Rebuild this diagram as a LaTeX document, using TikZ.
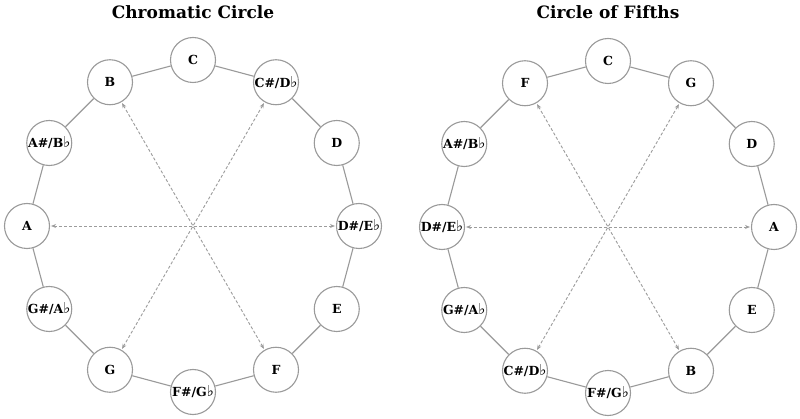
\documentclass[tikz,border=0pt]{standalone}
\usepackage{fontspec}
\setmainfont{DejaVu Serif}
\newfontfamily\flatfont{DejaVu Sans}
\usetikzlibrary{arrows.meta}
\newcommand{\fl}{{\flatfont\mdseries\fontsize{15}{15}\selectfont ♭}}
\definecolor{linegray}{HTML}{9A9A9A}
\definecolor{dashgray}{HTML}{9C9C9C}
\begin{document}
\begin{tikzpicture}[x=1pt,y=-1pt,
  note/.style={circle,draw=linegray,line width=1.1pt,fill=white,minimum size=45pt,inner sep=0pt,
    font=\bfseries\fontsize{12.5}{13}\selectfont},
  ring/.style={draw=linegray,line width=1.1pt},
  link/.style={draw=dashgray,line width=0.9pt,dash pattern=on 3pt off 2pt,
    {Stealth[length=5pt,width=4pt]}-{Stealth[length=5pt,width=4pt]},shorten <=1pt,shorten >=1pt},
  title/.style={font=\bfseries\fontsize{17}{18}\selectfont}]
\useasboundingbox (0,0) rectangle (800,419);
\fill[white] (0,0) rectangle (800,419);

\node[title,anchor=base] (t1) at (193,18.5) {Chromatic Circle};
\node[title,anchor=base] (t2) at (608,18.5) {Circle of Fifths};

% Chromatic circle
\begin{scope}[shift={(193,226)}]
\node[note] (Lc)  at (-90:166) {C};
\node[note] (Lcs) at (-60:166) {C\#/D\fl};
\node[note] (Ld)  at (-30:166) {D};
\node[note] (Lds) at (0:166)   {D\#/E\fl};
\node[note] (Le)  at (30:166)  {E};
\node[note] (Lf)  at (60:166)  {F};
\node[note] (Lfs) at (90:166)  {F\#/G\fl};
\node[note] (Lg)  at (120:166) {G};
\node[note] (Lgs) at (150:166) {G\#/A\fl};
\node[note] (La)  at (180:166) {A};
\node[note] (Las) at (210:166) {A\#/B\fl};
\node[note] (Lb)  at (240:166) {B};
\end{scope}
\draw[ring] (Lc)--(Lcs); \draw[ring] (Lcs)--(Ld); \draw[ring] (Ld)--(Lds);
\draw[ring] (Lds)--(Le); \draw[ring] (Le)--(Lf); \draw[ring] (Lf)--(Lfs);
\draw[ring] (Lfs)--(Lg); \draw[ring] (Lg)--(Lgs); \draw[ring] (Lgs)--(La);
\draw[ring] (La)--(Las); \draw[ring] (Las)--(Lb); \draw[ring] (Lb)--(Lc);
\draw[link] (Lb)--(Lf);
\draw[link] (Lcs)--(Lg);
\draw[link] (La)--(Lds);

% Circle of fifths
\begin{scope}[shift={(608,227)}]
\node[note] (Rc)  at (-90:166) {C};
\node[note] (Rg)  at (-60:166) {G};
\node[note] (Rd)  at (-30:166) {D};
\node[note] (Ra)  at (0:166)   {A};
\node[note] (Re)  at (30:166)  {E};
\node[note] (Rb)  at (60:166)  {B};
\node[note] (Rfs) at (90:166)  {F\#/G\fl};
\node[note] (Rcs) at (120:166) {C\#/D\fl};
\node[note] (Rgs) at (150:166) {G\#/A\fl};
\node[note] (Rds) at (180:166) {D\#/E\fl};
\node[note] (Ras) at (210:166) {A\#/B\fl};
\node[note] (Rf)  at (240:166) {F};
\end{scope}
\draw[ring] (Rc)--(Rg); \draw[ring] (Rg)--(Rd); \draw[ring] (Rd)--(Ra);
\draw[ring] (Ra)--(Re); \draw[ring] (Re)--(Rb); \draw[ring] (Rb)--(Rfs);
\draw[ring] (Rfs)--(Rcs); \draw[ring] (Rcs)--(Rgs); \draw[ring] (Rgs)--(Rds);
\draw[ring] (Rds)--(Ras); \draw[ring] (Ras)--(Rf); \draw[ring] (Rf)--(Rc);
\draw[link] (Rf)--(Rb);
\draw[link] (Rg)--(Rcs);
\draw[link] (Rds)--(Ra);
\end{tikzpicture}
\end{document}
